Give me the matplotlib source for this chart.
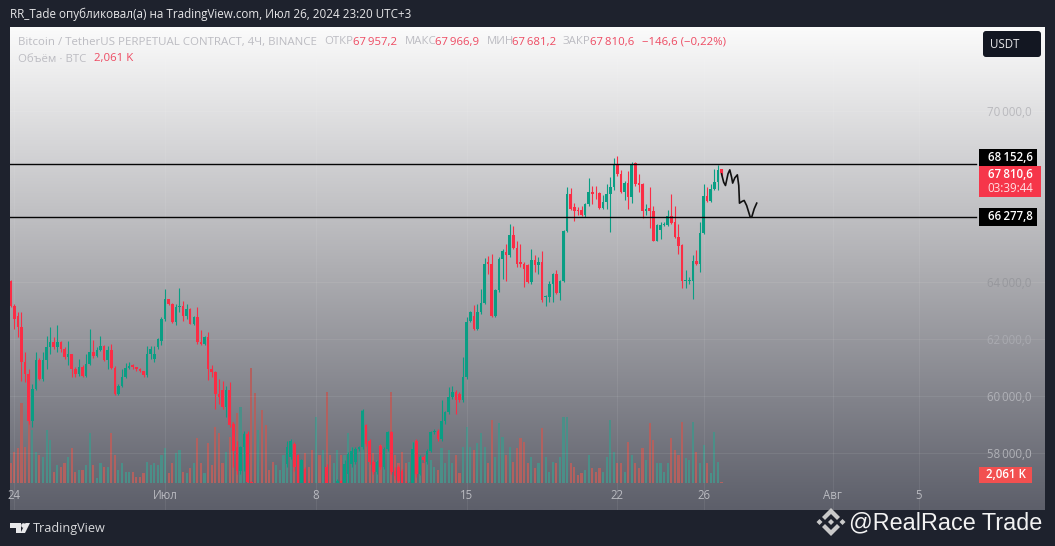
import numpy as np
import matplotlib
matplotlib.use("Agg")
import matplotlib.pyplot as plt
from matplotlib.colors import LinearSegmentedColormap
from matplotlib.patches import Rectangle, Polygon, FancyBboxPatch, Circle

plt.rcParams['font.family'] = ['Open Sans', 'DejaVu Sans']

opens = [64045,63165,62815,62405,61175,60765,59125,60240,61235,60590,
 61235,61725,61880,61700,61880,61645,61350,61470,60940,60765,
 61000,60705,61115,61525,61375,61610,61760,61235,61610,60975,
 60040,60355,60650,60975,61060,61000,60940,60880,60740,61470,
 61290,61700,61935,62700,63380,63225,62580,63110,63165,62815,
 63050,62520,62755,61880,61820,62075,60940,60825,60060,60180,
 59590,60180,59010,58185,57365,58185,58655,56955,56200,55600,
 55900,55300,55000,54600,54000,54600,55400,57600,57835,58305,
 57895,56900,57425,56900,56300,56000,56500,56100,57480,56665,
 56300,56665,57015,56900,57250,57600,57660,58130,58185,58950,
 58420,57660,57310,58245,57480,58130,58715,57365,57480,57365,
 56900,56780,56900,58420,57250,57835,57660,58070,58715,58770,
 58480,59125,59420,59945,60120,60060,59830,60650,62640,62815,
 62345,62930,63260,64690,64630,62815,63695,64810,65040,64925,
 65630,65195,64690,64630,64575,63985,64770,64575,64690,63460,
 63460,63930,64280,63600,64020,65780,67070,66625,66530,66530,
 66365,66740,67150,67090,67115,66600,66800,67090,67325,68090,
 67795,67150,67470,66975,68170,67470,67445,66485,66600,66505,
 65450,65825,65980,65980,66330,66100,65570,65310,64045,64045,
 64020,64725,64630,65710,67000,66835,67245,67500,67957]
closes = [63165,62700,62405,61175,60765,59125,60240,61235,60590,61235,
 61725,61880,61700,61880,61645,61350,61470,60940,60765,61000,
 60705,61115,61525,61375,61610,61760,61235,61610,60975,60040,
 60355,60650,60975,61025,61000,60940,60880,60740,61470,61645,
 61470,61995,62700,63380,63225,62580,63110,63165,62815,63050,
 62520,62755,61880,61820,62075,60940,60825,60060,59945,59590,
 60180,58950,58070,57365,58185,58655,56955,56200,55600,55900,
 55300,55000,54600,54000,54600,55400,56000,58185,58420,57480,
 56900,57720,56900,56300,56000,56500,56100,56600,56665,56300,
 56600,57015,56780,57600,57950,58070,58130,58185,59475,58305,
 57660,57310,57660,57480,58130,58715,57310,57190,57015,56900,
 56780,56840,58130,57250,57835,57720,58070,58715,58770,58480,
 59125,59420,59945,60120,59830,59830,60650,62580,62930,62345,
 62930,63260,64630,64630,62815,63695,64810,65100,64925,65630,
 65195,64630,64610,64455,63985,64770,64575,64690,63345,63485,
 63930,64280,63600,64045,65780,67070,66565,66505,66485,66365,
 66740,67150,67070,67070,66600,66800,67090,67350,68090,67795,
 67150,67470,66975,68145,67445,67410,66485,66565,66485,65450,
 65980,65980,66015,66330,66060,65570,65275,64020,64070,64070,
 64725,64610,65710,67000,66835,67270,67500,67935,67810]
highs = [64070,63225,62930,62930,61525,60940,60415,61525,61330,61525,
 62110,62405,62055,62465,61915,61700,61935,61470,61000,61290,
 61060,61470,62345,61960,61700,62110,61795,61760,61820,61025,
 60415,60940,61140,61175,61115,61000,60975,60880,61760,61760,
 61760,62030,62755,63750,63400,63250,63225,63790,63320,63225,
 63085,62815,63130,62310,62110,62230,61060,60880,60590,60530,
 60355,60470,59065,58420,58245,58770,58770,57000,56300,56100,
 56000,55500,55200,54800,54900,55700,56300,58420,58480,58365,
 57950,57775,57480,57000,56600,56700,56700,56800,57600,56800,
 56750,57075,57050,57720,58010,58185,58185,58245,59535,59010,
 58480,57720,57720,58305,58185,58770,58770,57480,57550,57420,
 57000,56950,58365,58480,57900,57900,58130,58770,58830,58830,
 59830,59475,60295,60355,60180,60120,61350,62755,62990,63200,
 63225,63755,64840,64890,64985,63755,64865,65160,65335,66040,
 65945,65430,65335,64690,64630,65160,64925,64865,65080,63520,
 64045,64305,64400,64070,65805,67350,67300,66765,66625,66680,
 66765,67655,67385,67385,67150,67035,67445,67700,68360,68440,
 67935,67560,67910,68205,68205,67795,67470,66740,67325,66680,
 66040,66100,66100,66530,67090,66650,66040,65335,64400,64160,
 64925,65125,66100,67445,67325,67445,67970,68090,67966]
lows = [63110,62345,62055,60530,60470,59010,58890,60180,60555,60530,
 60940,61470,61645,61525,61525,61290,61060,60670,60670,60705,
 60670,60670,61090,61330,61350,61585,61210,60940,60940,60005,
 60005,60320,60625,60940,60940,60880,60825,60670,60670,61290,
 61175,61645,61795,62640,63200,62545,62465,62930,62640,62700,
 62500,62465,61820,61795,61795,60555,60650,59535,59710,59535,
 59240,58890,57480,57250,57250,57365,56780,56000,55400,55300,
 55100,54800,54300,53600,53800,54400,55200,57480,57775,57365,
 56665,56780,56665,56100,55800,55700,55900,56000,56400,56100,
 56100,56500,56600,56780,56900,57480,57600,58070,58130,58245,
 57600,57250,57250,57425,57425,58070,57250,57075,56950,56800,
 56650,56700,56780,57130,57200,57660,57600,58010,58650,58420,
 58420,59010,59360,59885,59360,59770,59770,60590,62580,62290,
 62290,62875,63225,64280,62755,62755,63635,64105,64045,64865,
 65160,64515,64515,63810,63950,63930,64340,64280,63285,63165,
 63285,63285,63555,63345,63985,65745,66530,66130,66365,66330,
 66270,66680,66720,66915,66565,66565,66565,65745,67210,67735,
 67115,66880,66565,66765,67385,67150,66250,66365,65895,65430,
 65430,65510,65945,65945,66040,65545,64985,63790,63790,63930,
 63400,64575,64340,65665,66810,66800,67235,67210,67681]
volumes_k = [24,38,42,96,44,98,64,38,34,32,
 64,52,14,22,20,24,32,42,14,16,
 16,22,60,22,6,24,20,20,60,34,
 16,24,14,14,14,8,8,12,26,22,
 24,22,34,42,12,24,36,40,14,12,
 18,24,54,24,12,48,22,68,60,24,
 38,56,74,84,92,60,60,138,108,64,
 88,70,16,26,22,16,34,40,50,46,
 34,28,36,20,40,80,34,40,110,34,
 24,40,34,34,60,44,32,40,88,68,
 52,36,28,46,40,40,110,34,24,38,
 24,26,50,52,16,24,28,28,20,16,
 42,24,40,24,34,12,44,68,44,40,
 48,60,44,24,76,32,72,56,34,44,
 26,42,54,50,24,32,18,24,66,32,
 14,26,24,32,80,80,24,20,10,12,
 16,34,18,14,18,14,32,76,38,24,
 24,14,50,34,24,18,42,28,72,52,
 24,24,14,24,54,40,34,74,30,28,
 74,38,24,46,24,12,62,26,2.061]
sketch_bar = [198.0,198.6,199.1,199.8,200.3,200.8,201.1,201.7,202.4,202.8,203.0,203.7,204.3,205.0,206.0,206.4,207.1,207.8]
sketch_price = [67795,67500,67385,67795,67935,67680,67470,67655,67760,67385,66765,66825,66860,66680,66270,66270,66565,66765]
level_prices = [68152.6, 66277.8]
x_tick_bars = [1,43,85,127,169,193,229,253]
x_tick_labels = ['24','Июл','8','15','22','26','Авг','5']
y_ticks = [58000,60000,62000,64000,70000]
y_tick_labels = ['58\u2009000,0','60\u2009000,0','62\u2009000,0','64\u2009000,0','70\u2009000,0']
y_tick_colors = ['#b0b1b7','#b0b1b7','#a9aab0','#97989d','#b9b9bd']

W, H = 1055, 546
BG = '#1e222d'; UP = '#0a9e84'; DOWN = '#fb2d45'
fig = plt.figure(figsize=(W/100, H/100), dpi=100, facecolor=BG)
L, R, T, B = 10, 1045, 27, 510
rect = [L/W, 1-B/H, (R-L)/W, (B-T)/H]

bg = fig.add_axes(rect, zorder=0); bg.axis('off')
cm = LinearSegmentedColormap.from_list('g', ['#fbfbfb', '#aeaeb2', '#5d5f6a'])
bg.imshow(np.linspace(0, 1, 256)[:, None], aspect='auto', cmap=cm, extent=[0, 1, 0, 1])

vol = fig.add_axes(rect, zorder=1); vol.patch.set_visible(False)
pr = fig.add_axes(rect, zorder=2); pr.patch.set_visible(False)
n = len(closes)
idx = np.arange(n)
o, c, hi, lo = map(np.array, (opens, closes, highs, lows))
is_up = c >= o

pr.set_xlim(-0.195, 288.1); pr.set_ylim(55979, 72957)
vol.set_xlim(-0.195, 288.1); vol.set_ylim(-32, 548)
vol.axis('off')
vol.bar(idx, volumes_k, width=0.6, linewidth=0,
        color=['#4b8f88' if u else '#b2615f' for u in is_up])

clip = Rectangle((-0.195, 56928), 288.3, 16029, transform=pr.transData)
wicks = pr.vlines(idx, lo, hi, colors=[UP if u else DOWN for u in is_up], linewidth=0.8, zorder=3)
wicks.set_clip_path(clip)
bars = pr.bar(idx, np.maximum(np.abs(c-o), 25), bottom=np.minimum(o, c), width=0.72, linewidth=0,
              color=[UP if u else DOWN for u in is_up], zorder=4)
for b in bars:
    b.set_clip_path(clip)

pr.plot(sketch_bar, sketch_price, color='#111111', lw=1.2, zorder=6, solid_joinstyle='round')
for p in level_prices:
    pr.plot([-0.195, 269], [p, p], color='#050505', lw=1.0, zorder=5)

for s in pr.spines.values():
    s.set_visible(False)
pr.set_xticks(x_tick_bars, x_tick_labels)
pr.yaxis.tick_right()
pr.set_yticks(y_ticks, y_tick_labels)
pr.tick_params(axis='x', length=0, pad=-15, labelsize=8.3, labelcolor='#b9bac0')
pr.tick_params(axis='y', length=0, pad=-41.5, labelsize=8.3)
for lab, col in zip(pr.get_yticklabels(), y_tick_colors):
    lab.set_color(col)
pr.grid(True, color='#ffffff', alpha=0.07, lw=0.8)
pr.set_axisbelow(True)

ov = fig.add_axes([0, 0, 1, 1], zorder=5)
ov.set_xlim(0, W); ov.set_ylim(H, 0); ov.axis('off')

def t(x, y, s, color='#e6e6e8', size=8.3, ha='left', **k):
    ov.text(x, y, s, color=color, fontsize=size, ha=ha, va='center', **k)

t(10, 14.5, 'RR_Tade опубликовал(а) на TradingView.com, Июл 26, 2024 23:20 UTC+3', size=8.35)
GR = '#bcbcc2'; RD = '#ee4a62'
t(18, 42, 'Bitcoin / TetherUS PERPETUAL CONTRACT, 4Ч, BINANCE', GR, 8.25)
t(324, 42, 'ОТКР', GR, 8.2); t(353, 42, '67\u2009957,2', RD, 8.2)
t(405, 42, 'МАКС', GR, 8.2); t(435, 42, '67\u2009966,9', RD, 8.2)
t(487, 42, 'МИН', GR, 8.2); t(512, 42, '67\u2009681,2', RD, 8.2)
t(563, 42, 'ЗАКР', GR, 8.2); t(590, 42, '67\u2009810,6', RD, 8.2)
t(642, 42, '−146,6 (−0,22%)', RD, 8.2)
t(18, 59, 'Объём · BTC', GR, 8.2); t(94, 59, '2,061 K', RD, 8.2)

ov.add_patch(FancyBboxPatch((985, 33), 54, 22, boxstyle='round,pad=2,rounding_size=3', fc='#131722', ec='none'))
t(1005, 44, 'USDT', '#e6e6e8', 8.3, ha='center')

ov.add_patch(Rectangle((979, 149), 58, 17, fc='#000000', ec='none'))
t(1010, 157.5, '68\u2009152,6', '#ffffff', 8.3, ha='center', fontweight='semibold')
ov.add_patch(Rectangle((979, 166), 62, 31, fc='#f6364a', ec='none'))
t(1010, 174, '67\u2009810,6', '#ffffff', 8.3, ha='center', fontweight='semibold')
t(1010, 188, '03:39:44', '#ffdfe2', 8.3, ha='center')
ov.add_patch(Rectangle((979, 208), 58, 18, fc='#000000', ec='none'))
t(1010, 217, '66\u2009277,8', '#ffffff', 8.3, ha='center', fontweight='semibold')
ov.add_patch(Rectangle((979, 467), 53, 16, fc='#f25050', ec='none'))
t(1006, 475, '2,061 K', '#ffffff', 8.3, ha='center', fontweight='semibold')

# TradingView logo
ov.add_patch(Polygon([(10, 523), (21, 523), (21, 533), (16, 533), (16, 528), (10, 528)], fc='#e8e8ea', ec='none'))
ov.add_patch(Circle((23.5, 525.5), 2.3, fc='#e8e8ea', ec='none'))
ov.add_patch(Polygon([(25, 533), (30, 523), (25.5, 523), (20.5, 533)], fc='#e8e8ea', ec='none'))
t(33, 528.5, 'TradingView', '#d8d9dc', 9.1)

# Watermark
G = '#c9c9c9'
cx, cy = 831, 522
ov.add_patch(Polygon([(cx, cy-14), (cx+9, cy-5), (cx+6, cy-2), (cx, cy-8), (cx-6, cy-2), (cx-9, cy-5)], fc=G, ec='none'))
ov.add_patch(Polygon([(cx, cy+14), (cx+9, cy+5), (cx+6, cy+2), (cx, cy+8), (cx-6, cy+2), (cx-9, cy+5)], fc=G, ec='none'))
for dx in (-11.5, 0, 11.5):
    ov.add_patch(Polygon([(cx+dx, cy-3), (cx+dx+3, cy), (cx+dx, cy+3), (cx+dx-3, cy)], fc=G, ec='none'))
ov.text(849, 523, '@RealRace Trade', color='#f2f2f2', fontsize=16.8, family='Liberation Sans', ha='left', va='center')

fig.savefig('out.png', dpi=100, facecolor=BG)
